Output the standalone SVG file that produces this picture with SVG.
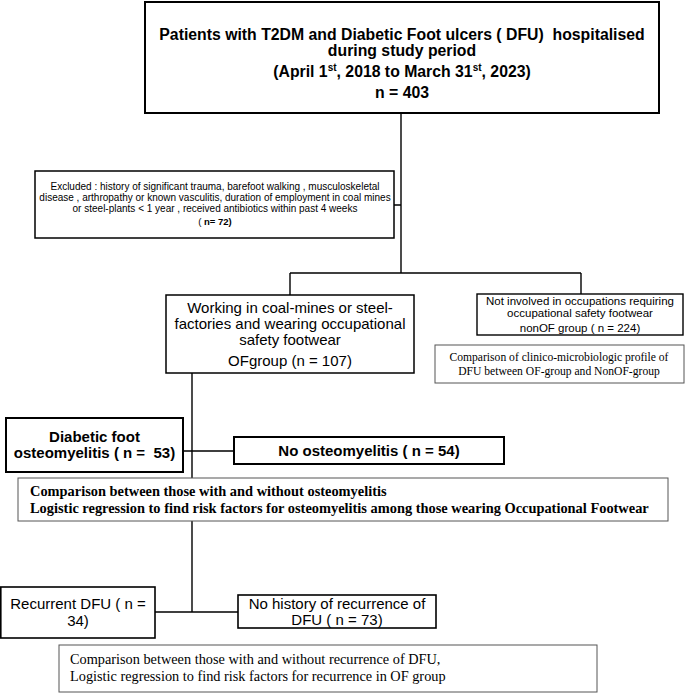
<svg xmlns="http://www.w3.org/2000/svg" width="685" height="693" viewBox="0 0 685 693">
<style>
.box{fill:#fff;stroke:#000}
.gbox{fill:#fff;stroke:#555;stroke-width:1}
.s{font-family:"Liberation Sans",Arial,sans-serif;fill:#000}
.r{font-family:"Liberation Serif","Times New Roman",serif;fill:#000}
.b{font-weight:bold}
.c{text-anchor:middle}
.ln{stroke:#000;stroke-width:1.4;fill:none}
</style>
<rect width="685" height="693" fill="#fff"/>
<g id="connectors">
<path class="ln" d="M401,113 V273 M394,205 H401 M290,273 H581 M290,273 V295 M581,273 V294"/>
<path class="ln" d="M192,373 V478 M183,451 H234 M192,521 V612 M155,612 H238"/>
</g>
<g id="n_top">
<rect class="box" x="145" y="2" width="514" height="111" stroke-width="2"/>
<text class="s b c" font-size="15.8" x="402" y="40" xml:space="preserve">Patients with T2DM and Diabetic Foot ulcers ( DFU)  hospitalised</text>
<text class="s b c" font-size="15.8" x="402" y="56">during study period</text>
<text class="s b c" font-size="15.8" x="402" y="77">(April 1<tspan font-size="10" dy="-6">st</tspan><tspan dy="6">, 2018 to March 31</tspan><tspan font-size="10" dy="-6">st</tspan><tspan dy="6">, 2023)</tspan></text>
<text class="s b c" font-size="15.8" x="402" y="98">n = 403</text>
</g>
<g id="n_excl">
<rect class="box" x="35" y="171" width="359" height="67" stroke-width="1.5"/>
<text class="s c" font-size="10" x="215" y="190">Excluded : history of significant trauma, barefoot walking , musculoskeletal</text>
<text class="s c" font-size="10" x="215" y="201">disease , arthropathy or known vasculitis, duration of employment in coal mines</text>
<text class="s c" font-size="10" x="215" y="212">or steel-plants &lt; 1 year , received antibiotics within past 4 weeks</text>
<text class="s c" font-size="9.5" x="215" y="225">( <tspan class="b">n= 72)</tspan></text>
</g>
<g id="n_of">
<rect class="box" x="166" y="295" width="248" height="78" stroke-width="1.5"/>
<text class="s c" font-size="15" x="290" y="313">Working in coal-mines or steel-</text>
<text class="s c" font-size="15" x="290" y="329">factories and wearing occupational</text>
<text class="s c" font-size="15" x="290" y="345">safety footwear</text>
<text class="s c" font-size="15" x="290" y="366">OFgroup (n = 107)</text>
</g>
<g id="n_nonof">
<rect class="box" x="477" y="294" width="206" height="41" stroke-width="1.4"/>
<text class="s c" font-size="11.5" x="580" y="305">Not involved in occupations requiring</text>
<text class="s c" font-size="11.5" x="580" y="317">occupational safety footwear</text>
<text class="s c" font-size="11.5" x="580" y="332">nonOF group ( n = 224)</text>
</g>
<g id="n_cmp1">
<rect class="gbox" x="435" y="345" width="249" height="38"/>
<text class="r c" font-size="11.6" x="559" y="361">Comparison of clinico-microbiologic profile of</text>
<text class="r c" font-size="11.6" x="559" y="375">DFU between OF-group and NonOF-group</text>
</g>
<g id="n_dfo">
<rect class="box" x="6" y="418" width="177" height="54" stroke-width="2"/>
<text class="s b c" font-size="15" x="94.5" y="442">Diabetic foot</text>
<text class="s b c" font-size="15" x="94.5" y="458" xml:space="preserve">osteomyelitis ( n =  53)</text>
</g>
<g id="n_noost">
<rect class="box" x="234" y="437" width="270" height="27" stroke-width="2"/>
<text class="s b c" font-size="15" x="369" y="456">No osteomyelitis ( n = 54)</text>
</g>
<g id="n_cmp2">
<rect class="gbox" x="18" y="478" width="650" height="43"/>
<text class="r b" font-size="14.4" x="30" y="496">Comparison between those with and without osteomyelitis</text>
<text class="r b" font-size="14.4" x="30" y="513">Logistic regression to find risk factors for osteomyelitis among those wearing Occupational Footwear</text>
</g>
<g id="n_rec">
<rect class="box" x="0.8" y="587" width="154.2" height="51" stroke-width="1.6"/>
<text class="s c" font-size="15" x="78" y="609">Recurrent DFU ( n =</text>
<text class="s c" font-size="15" x="78" y="626">34)</text>
</g>
<g id="n_norec">
<rect class="box" x="238" y="595" width="198" height="33" stroke-width="1.6"/>
<text class="s c" font-size="15" x="337" y="609">No history of recurrence of</text>
<text class="s c" font-size="15" x="337" y="625">DFU ( n = 73)</text>
</g>
<g id="n_cmp3">
<rect class="gbox" x="59" y="645" width="538" height="47"/>
<text class="r" font-size="14.3" x="70" y="664">Comparison between those with and without recurrence of DFU,</text>
<text class="r" font-size="14.3" x="70" y="681">Logistic regression to find risk factors for recurrence in OF group</text>
</g>
</svg>
